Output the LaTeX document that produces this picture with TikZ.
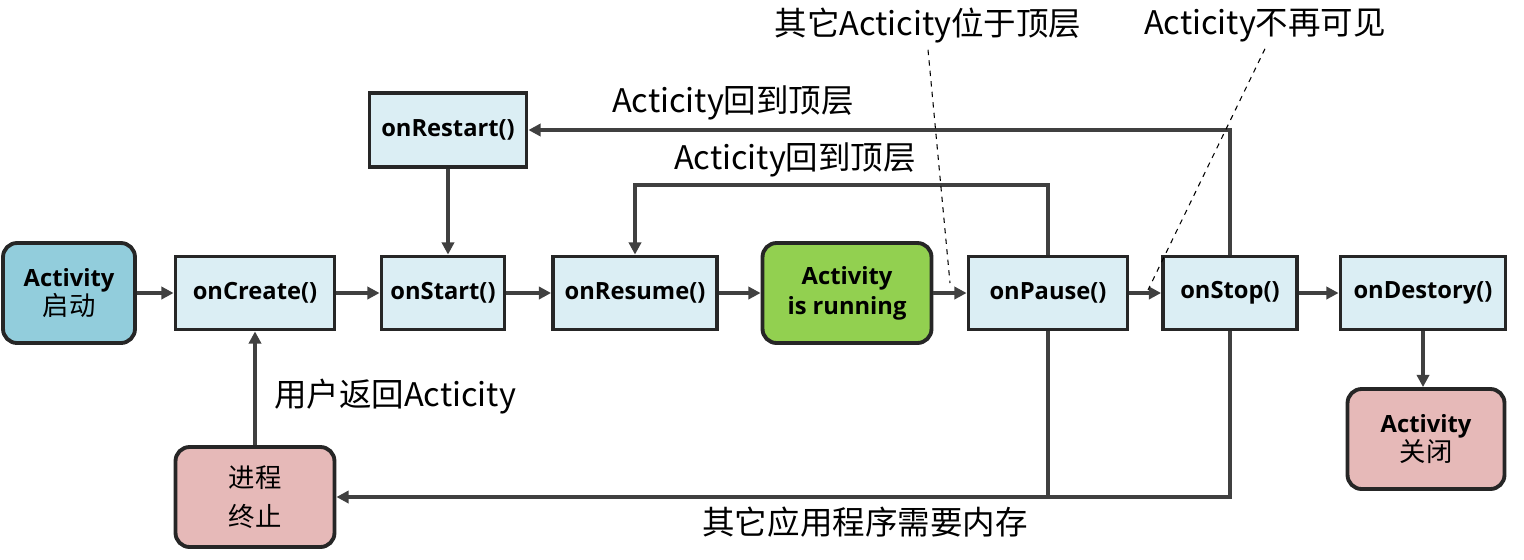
\documentclass[tikz,border=0pt]{standalone}
\usepackage{fontspec}
\setmainfont{Open Sans}
\newfontfamily\cjk{Noto Sans CJK SC}
\usetikzlibrary{arrows.meta}
\definecolor{bx}{HTML}{DBEEF4}
\definecolor{bl}{HTML}{92CDDC}
\definecolor{gr}{HTML}{92D050}
\definecolor{pk}{HTML}{E6B9B8}
\definecolor{lc}{HTML}{404040}
\begin{document}
\begin{tikzpicture}[x=0.02cm,y=-0.02cm,
  box/.style={draw=black!85,line width=2.2pt,fill=bx,minimum height=1.46cm,inner sep=0pt,font=\fontsize{13.5}{17}\selectfont\bfseries,align=center},
  rbox/.style={box,rounded corners=8pt,minimum height=2cm},
  arr/.style={draw=lc,line width=2.2pt,-{Triangle[length=7pt,width=7pt]}},
  pl/.style={draw=lc,line width=2.2pt},
  lab/.style={font=\cjk\fontsize{18.5}{22}\selectfont},
  dsh/.style={draw=black,dashed,line width=0.6pt}]
\useasboundingbox (0,0) rectangle (1524,559);
\node[rbox,fill=bl,minimum width=2.64cm] (start) at (69,293) {Activity\\{\cjk\mdseries\fontsize{15}{19}\selectfont 启动}};
\node[box,minimum width=3.18cm] (create) at (255,293) {onCreate()};
\node[box,minimum width=2.46cm] (st) at (443,293) {onStart()};
\node[box,minimum width=3.28cm] (resume) at (635,293) {onResume()};
\node[rbox,fill=gr,minimum width=3.38cm] (run) at (847,293) {Activity\\is running};
\node[box,minimum width=3.18cm] (pause) at (1048,293) {onPause()};
\node[box,minimum width=2.68cm] (stop) at (1230,293) {onStop()};
\node[box,minimum width=3.3cm] (destroy) at (1423,293) {onDestory()};
\node[box,minimum width=3.14cm,minimum height=1.48cm] (restart) at (448,130) {onRestart()};
\node[rbox,fill=pk,minimum width=3.14cm] (close) at (1426,439) {Activity\\{\cjk\mdseries\fontsize{15}{19}\selectfont 关闭}};
\node[rbox,fill=pk,minimum width=3.18cm,font=\cjk\fontsize{15}{22}\selectfont] (kill) at (255,497) {进程\\终止};
\draw[arr] (start) -- (create);
\draw[arr] (create) -- (st);
\draw[arr] (st) -- (resume);
\draw[arr] (resume) -- (run);
\draw[arr] (run) -- (pause);
\draw[arr] (pause) -- (stop);
\draw[arr] (stop) -- (destroy);
\draw[arr] (destroy.south) -- (destroy.south|-close.north);
\draw[arr] (stop.north) |- (restart.east);
\draw[arr] (restart) -- (restart|-st.north);
\draw[arr] (pause.north) -- ++(0,-70) -| (resume.north);
\draw[pl] (pause.south) -- (pause.south|-kill.east);
\draw[arr] (stop.south) |- (kill.east);
\draw[arr] (kill) -- (create);
\node[lab] (l1) at (733,103) {Acticity回到顶层};
\node[lab] (l2) at (795,160) {Acticity回到顶层};
\node[lab] (l3) at (395,397) {用户返回Acticity};
\node[lab] (l4) at (865,522) {其它应用程序需要内存};
\node[lab] (l5) at (928,26) {其它Acticity位于顶层};
\node[lab] (l6) at (1265,26) {Acticity不再可见};
\coordinate (d1) at (950,283);
\coordinate (d2) at (1148,290);
\draw[dsh] (l5.south) -- (d1);
\draw[dsh] (l6.south) -- (d2);
\end{tikzpicture}
\end{document}
